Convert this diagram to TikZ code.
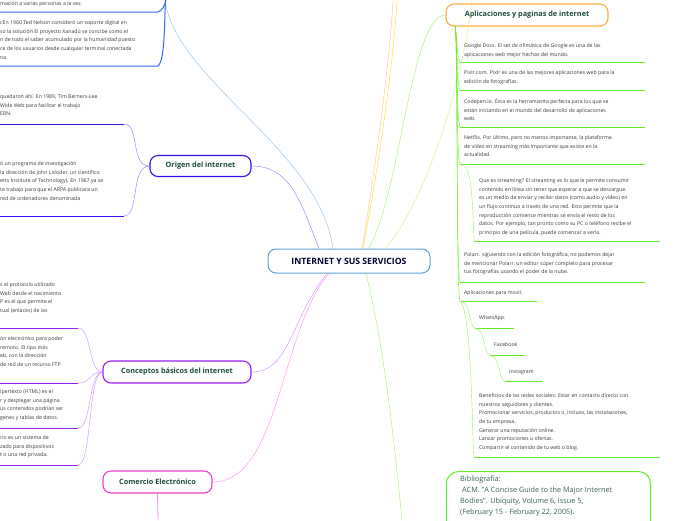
\documentclass[tikz,border=0pt]{standalone}
\usepackage{fontspec}
\setmainfont{Open Sans}
\definecolor{ntext}{HTML}{1E4D40}
\definecolor{ltext}{HTML}{3A3A3A}
\definecolor{cblue}{HTML}{5AA0D8}
\definecolor{bblue}{HTML}{3366FF}
\definecolor{vio}{HTML}{3311EE}
\definecolor{lvio}{HTML}{8877FF}
\definecolor{purp}{HTML}{9B1CF0}
\definecolor{lpurp}{HTML}{CC88FF}
\definecolor{pink}{HTML}{F03CD2}
\definecolor{lpink}{HTML}{FF88EE}
\definecolor{oran}{HTML}{FFAA44}
\definecolor{grn}{HTML}{66EE22}
\definecolor{lgrn}{HTML}{99F066}
\definecolor{ygrn}{HTML}{CCF088}
\begin{document}
\begin{tikzpicture}[x=1pt,y=-1pt,
  branch/.style={draw,rounded corners=8pt,line width=1.1pt,font=\fontsize{7.3}{8}\selectfont\bfseries,text=ntext,inner sep=0pt},
  leaf/.style={anchor=north west,inner sep=0pt,align=left,text=ltext,font=\fontsize{5.2}{8.6}\selectfont},
  ul/.style={line width=1pt}]
\useasboundingbox (0,0) rectangle (696,520);
\clip (0,0) rectangle (696,520);
% central
\node[draw=cblue,rounded corners=8pt,line width=1pt,minimum width=162pt,minimum height=24pt,font=\fontsize{8.7}{10}\selectfont\bfseries,text=black!70!blue!60!black] (c) at (349,261) {INTERNET Y SUS SERVICIOS};
% branches
\node[branch,draw=vio,minimum width=101pt,minimum height=21pt] (o) at (200.5,166) {Origen del internet};
\node[branch,draw=purp,minimum width=148pt,minimum height=22pt] (k) at (177,372) {Conceptos básicos del internet};
\node[branch,draw=pink,minimum width=109pt,minimum height=22pt] (e) at (157.5,482) {Comercio Electrónico};
\node[branch,draw=oran,minimum width=162pt,minimum height=22pt] (a) at (527,15) {Aplicaciones y paginas de internet};
% central connectors
\coordinate (topb) at (165,0);
\coordinate (topo1) at (393,0);
\coordinate (topo2) at (397,0);
\coordinate (topy) at (472,0);
\coordinate (botg) at (402,520);
\draw[cblue!70!white,thin] ([xshift=-16pt]c.north) .. controls (320,150) and (175,80) .. (topb);
\draw[oran!70!white,thin] ([xshift=13pt]c.north) .. controls (375,170) and (390,60) .. (topo1);
\draw[yellow!80!orange,thin] ([xshift=14pt]c.north) .. controls (378,170) and (394,60) .. (topo2);
\draw[lgrn,thin] ([xshift=19pt]c.north) .. controls (400,200) and (410,15) .. (a.west);
\draw[ygrn,thin] ([xshift=36pt]c.north) .. controls (420,210) and (460,100) .. (topy);
\draw[lvio,thin] ([xshift=-30pt]c.north) .. controls (300,200) and (290,166) .. (o.east);
\draw[lpurp,thin] ([xshift=-22pt]c.south) .. controls (290,320) and (290,372) .. (k.east);
\draw[lpink,thin] ([xshift=-20pt]c.south) .. controls (280,330) and (280,482) .. (e.east);
\draw[lgrn,thin] ([xshift=17pt]c.south) .. controls (385,350) and (395,450) .. (botg);
\coordinate (ebot) at (158,520);
\draw[lpink,line width=0.8pt] (e.south) -- (ebot);
% left top (blue)
\node[leaf] (b1) at (0,1) {mación a varias personas a la vez.};
\node[leaf] (b2) at (0,20.5) {cEn 1960 Ted Nelson consideró un soporte digital en\\so la solución El proyecto Xanadú se concibe como el\\n de todo el saber acumulado por la humanidad puesto\\ce de los usuarios desde cualquier terminal conectada\\na.};
\coordinate (b1l) at (0,12); \coordinate (b1r) at (158,12);
\coordinate (b2l) at (0,66); \coordinate (b2r) at (158,66);
\draw[bblue,ul] (b1l) -- (b1r) .. controls (166,8) and (166,0) .. (166,-5);
\draw[bblue,ul] (b2l) -- (b2r) .. controls (166,60) and (164,10) .. (166,-5);
% origen leaves
\node[leaf] (o1) at (0,94.5) {quedaron ahí. En 1989, Tim Berners-Lee\\Wide Web para facilitar el trabajo\\ERN.};
\node[leaf] (o2) at (0,161.5) {ó un programa de investigación\\la dirección de John Lickider, un científico\\etts Institute of Technology). En 1967 ya se\\te trabajo para que el ARPA publicara un\\red de ordenadores denominada};
\coordinate (o1l) at (0,124); \coordinate (o1r) at (124,124);
\coordinate (o2l) at (0,216); \coordinate (o2r) at (124,216);
\draw[vio,ul] (o1l) -- (o1r);
\draw[vio,ul] (o2l) -- (o2r);
\draw[lvio,thin] (o1r) .. controls (140,124) and (130,166) .. (o.west);
\draw[lvio,thin] (o2r) .. controls (140,216) and (130,166) .. (o.west);
% conceptos leaves
\node[leaf] (k1) at (0,282.5) {s el protocolo utilizado\\Web desde el nacimiento\\P es el que permite el\\tual (enlaces) de las};
\node[leaf] (k2) at (0,336.5) {ón electrónico para poder\\remoto. El tipo más\\eb, con la dirección\\de red de un recurso FTP};
\node[leaf] (k3) at (0,389.5) {ipertexto (HTML) es el\\r y desplegar una página\\us contenidos podrían ser\\genes y tablas de datos.};
\node[leaf] (k4) at (0,435.5) {rio es un sistema de\\zado para dispositivos\\t o una red privada.};
\foreach \i/\yy in {1/328,2/383,3/428,4/465}{
  \coordinate (kl\i) at (0,\yy); \coordinate (kr\i) at (78,\yy);
  \draw[purp,ul] (kl\i) -- (kr\i);
  \draw[lpurp,thin] (kr\i) .. controls (92,\yy) and (88,372) .. (k.west);
}
% right: aplicaciones leaves
\coordinate (ar) at (455,26);
\node[leaf] (r1) at (464,43.5) {Google Docs. El set de ofimática de Google es una de las\\aplicaciones web mejor hechas del mundo.};
\node[leaf] (r2) at (464,70.5) {Pixlr.com. Pixlr es una de las mejores aplicaciones web para la\\edición de fotografías.};
\node[leaf] (r3) at (464,98.5) {Codepen.io. Ésta es la herramienta perfecta para los que se\\están iniciando en el mundo del desarrollo de aplicaciones\\web.};
\node[leaf] (r4) at (464,135.5) {Netflix. Por último, pero no menos importante, la plataforma\\de vídeo en streaming más importante que existe en la\\actualidad.};
\node[leaf] (r6) at (464,252.5) {Polarr. siguiendo con la edición fotográfica, no podemos dejar\\de mencionar Polarr, un editor súper completo para procesar\\tus fotografías usando el poder de la nube.};
\node[leaf] (r7) at (464,290.5) {Aplicaciones para movil.};
\foreach \i/\yy/\xr in {1/62/645,2/90/645,3/127/645,4/164/645,6/282/645,7/301/537}{
  \coordinate (rl\i) at (460,\yy); \coordinate (rr\i) at (\xr,\yy);
  \draw[grn,ul] (rl\i) -- (rr\i);
  \draw[grn,thin] (ar) .. controls (458,40) and (456,\yy-8) .. (rl\i);
}
\node[leaf] (r5) at (479,178.5) {Que es streaming? El streaming es lo que le permite consumir\\contenido en línea sin tener que esperar a que se descargue.\\es un medio de enviar y recibir datos (como audio y vídeo) en\\un flujo continuo a través de una red. Esto permite que la\\reproducción comience mientras se envía el resto de los\\datos. Por ejemplo, tan pronto como su PC o teléfono recibe el\\principio de una película, puede comenzar a verla.};
\coordinate (r5l) at (474,241); \coordinate (r5r) at (660,241);
\draw[grn,ul] (r5l) -- (r5r);
\draw[lgrn,thin] (rl4) .. controls (470,166) and (472,180) .. (r5l);
% movil children
\node[leaf] (m1) at (479,315.5) {WhatsApp.};
\node[leaf] (m2) at (494,342.5) {Facebook};
\node[leaf] (m3) at (509,369.5) {Instagram};
\node[leaf] (m4) at (479,393.5) {Beneficios de las redes sociales: Estar en contacto directo con\\nuestros seguidores y clientes.\\Promocionar servicios, productos o, incluso, las instalaciones,\\de tu empresa.\\Generar una reputación online.\\Lanzar promociones u ofertas.\\Compartir el contenido de tu web o blog.};
\coordinate (m1l) at (475,328); \coordinate (m1r) at (514,328);
\coordinate (m2l) at (490,355); \coordinate (m2r) at (525,355);
\coordinate (m3l) at (505,381); \coordinate (m3r) at (543,381);
\coordinate (m4l) at (474,457); \coordinate (m4r) at (660,457);
\draw[grn,ul] (m1l) -- (m1r); \draw[grn,ul] (m2l) -- (m2r);
\draw[grn,ul] (m3l) -- (m3r); \draw[grn,ul] (m4l) -- (m4r);
\draw[lgrn,thin] (rl7) .. controls (472,303) and (468,326) .. (m1l);
\draw[lgrn,thin] (m1l) .. controls (486,330) and (483,353) .. (m2l);
\draw[lgrn,thin] (m2l) .. controls (501,357) and (498,379) .. (m3l);
\draw[lgrn,thin] (rl7) .. controls (472,310) and (472,440) .. (m4l);
% bibliography
\node[draw=grn,rounded corners=12pt,line width=1pt,anchor=north west,minimum width=204pt,minimum height=70pt,inner sep=0pt] (bib) at (446,471) {};
\node[anchor=north west,inner sep=0pt,align=left,text=ntext!90,font=\fontsize{7.3}{11}\selectfont] (bibt) at (460,476) {Bibliografía:\\\hspace*{2pt}ACM. "A Concise Guide to the Major Internet\\Bodies". Ubiquity, Volume 6, Issue 5,\\(February 15 - February 22, 2005).};
\end{tikzpicture}
\end{document}
